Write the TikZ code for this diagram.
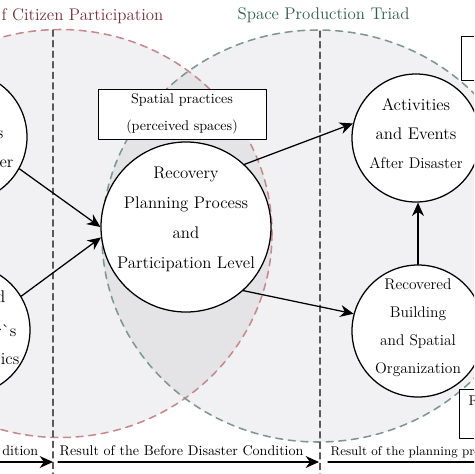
\documentclass[tikz,border=0pt]{standalone}
\usetikzlibrary{arrows.meta}

\definecolor{citired}{HTML}{7B2D3B}
\definecolor{triadgreen}{HTML}{2F5E4E}
\definecolor{ringred}{HTML}{C68A8E}
\definecolor{ringgreen}{HTML}{7F9791}
\definecolor{zonegray}{HTML}{F1F1F3}
\definecolor{lensgray}{HTML}{E4E4E6}

\begin{document}
\begin{tikzpicture}[x=0.25mm,y=-0.25mm,line cap=round,line join=round,>={Stealth[length=9.5pt,width=8.5pt]},
  every node/.style={inner sep=1pt},
  circ/.style={draw,circle,line width=0.9pt,fill=white},
  words/.style={align=center,font=\fontsize{12}{21.3}\selectfont},
  boxed/.style={draw,fill=white,line width=0.5pt},
  ring/.style={dash pattern=on 5pt off 4pt,line width=1.1pt},
  divider/.style={dash pattern=on 4.5pt off 3pt,line width=0.8pt,draw=black!65},
  flow/.style={->,line width=0.9pt},
  small/.style={font=\fontsize{10}{19}\selectfont}]
  \useasboundingbox (0,0) rectangle (474,474);
  \clip (0,0) rectangle (474,474);
  % the two zones
  \fill[zonegray] (60,233.5) ellipse [x radius=212,y radius=204];
  \fill[zonegray] (318,236) ellipse [x radius=216,y radius=206];
  \begin{scope}
    \clip (60,233.5) ellipse [x radius=212,y radius=204];
    \fill[lensgray] (318,236) ellipse [x radius=216,y radius=206];
  \end{scope}
  \draw[ring,ringred] (60,233.5) ellipse [x radius=212,y radius=204];
  \draw[ring,ringgreen] (318,236) ellipse [x radius=216,y radius=206];
  \draw[divider] (53,30) -- (53,474);
  \draw[divider] (320,31) -- (320,474);
  % titles
  \node[anchor=base east,text=citired,font=\fontsize{12}{14}\selectfont] (cit) at (165,20) {f Citizen Participation};
  \node[anchor=base west,text=triadgreen,font=\fontsize{12}{14}\selectfont] (tri) at (236,19) {Space Production Triad};
  % boxes
  \node[boxed,small,align=center,minimum width=42mm,minimum height=12.5mm] (SP) at (182,114) {Spatial practices\\(perceived spaces)};
  \node[boxed,minimum width=15mm,minimum height=11mm] (RS) at (491,58) {};
  \node[boxed,minimum width=15.5mm,minimum height=12.25mm] (RL) at (490,413.5) {};
  \node[anchor=base west,small] (RLt) at (467,405) {R};
  % circles
  \node[circ,minimum size=32.5mm] (L1) at (-38,137) {};
  \node[circ,minimum size=32.5mm] (L2) at (-35,330) {};
  \node[circ,minimum size=42.5mm] (Rec) at (186,227) {};
  \node[circ,minimum size=32mm] (Act) at (416,138) {};
  \node[circ,minimum size=33mm] (Bld) at (418,331) {};
  \node[words,anchor=base east] (L1a) at (5,138) {s};
  \node[words,anchor=base east] (L1b) at (15,167) {er};
  \node[words,anchor=base east] (L2a) at (7,302) {d};
  \node[words,anchor=base east] (L2b) at (18,336) {r\textasciigrave s};
  \node[words,anchor=base east] (L2c) at (21,364) {ics};
  \node[words] (RecT) at (186,219.5) {Recovery\\Planning Process\\and\\Participation Level};
  \node[words,font=\fontsize{12}{20.6}\selectfont] (ActT) at (416,134) {Activities\\and Events\\{\fontsize{11}{20.6}\selectfont After Disaster}};
  \node[words,font=\fontsize{11}{20}\selectfont] (BldT) at (418,328) {Recovered\\Building\\and Spatial\\Organization};
  % links
  \draw[flow] (L1.-29) -- (Rec.180);
  \draw[flow] (L2.31) -- (Rec.-173);
  \draw[flow] (Rec.47) -- (Act.167);
  \draw[flow] (Rec.-48) -- (Bld.165);
  \draw[flow] (Bld.north) -- (Bld.north |- Act.south);
  % time line
  \coordinate (t0) at (-10,462);
  \coordinate (t1) at (53,462);
  \coordinate (t2) at (58,462);
  \coordinate (t3) at (319,462);
  \coordinate (t4) at (328,462);
  \coordinate (t5) at (490,462);
  \draw[flow] (t0) -- (t1);
  \draw[flow] (t2) -- (t3);
  \draw[line width=0.9pt] (t4) -- (t5);
  \node[small,anchor=base east] (c0) at (40,455) {dition};
  \node[small,anchor=base west] (c1) at (58,455) {Result of the Before Disaster Condition};
  \node[anchor=base west,font=\fontsize{9}{11}\selectfont] (c2) at (329,455) {Result of the planning pro};
\end{tikzpicture}
\end{document}
